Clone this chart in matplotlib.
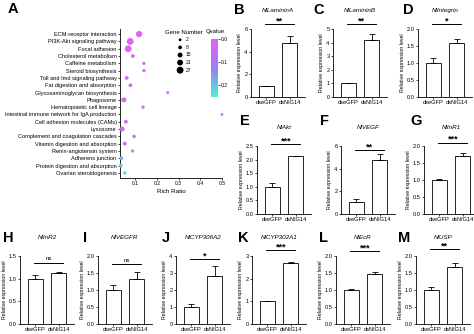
#KEGG enrichment bubble plot + qPCR bar panels

import numpy as np
import matplotlib
matplotlib.use('Agg')
import matplotlib.pyplot as plt
from matplotlib.colors import LinearSegmentedColormap, Normalize

plt.rcParams['font.family'] = ['Liberation Sans', 'DejaVu Sans']

#Panel A data
pathways = ['ECM-receptor interaction', 'PI3K-Akt signaling pathway', 'Focal adhesion',
            'Cholesterol metabolism', 'Caffeine metabolism', 'Steroid biosynthesis',
            'Toll and Imd signaling pathway', 'Fat digestion and absorption',
            'Glycosaminoglycan biosynthesis', 'Phagosome', 'Hematopoietic cell lineage',
            'Intestinal immune network for IgA production', 'Cell adhesion molecules (CAMs)',
            'Lysosome', 'Complement and coagulation cascades', 'Vitamin digestion and absorption',
            'Renin-angiotensin system', 'Adherens junction', 'Protein digestion and absorption',
            'Ovarian steroidogenesis']
rich_ratio = [0.118, 0.077, 0.068, 0.089, 0.14, 0.14, 0.061, 0.078, 0.25, 0.048,
              0.136, 0.5, 0.057, 0.04, 0.095, 0.052, 0.088, 0.037, 0.034, 0.052]
gene_number = [24, 27, 27, 8, 5, 5, 8, 8, 3, 15, 5, 2, 8, 15, 6, 8, 6, 8, 8, 6]
qvalue = [0.0, 0.0, 0.0, 0.005, 0.01, 0.01, 0.015, 0.02, 0.02, 0.025,
          0.03, 0.03, 0.035, 0.05, 0.05, 0.06, 0.18, 0.2, 0.21, 0.22]
legend_genes = [2, 8, 15, 21, 27]

#qPCR data (panels B-M)
groups = ['dseGFP', 'dsNIG14']
letters = ['B', 'C', 'D', 'E', 'F', 'G', 'H', 'I', 'J', 'K', 'L', 'M']
genes = ['NlLamininA', 'NlLamininB', 'NlIntegrin', 'NlAkt', 'NlVEGF', 'NlInR1',
         'NlInR2', 'NlVEGFR', 'NlCYP306A2', 'NlCYP302A1', 'NlEcR', 'NlUSP']
means = [[0.97, 4.8], [1.02, 4.2], [1.0, 1.6], [1.0, 2.12], [1.05, 4.8], [1.0, 1.72],
         [1.0, 1.13], [1.0, 1.33], [1.0, 2.85], [1.0, 2.67], [1.0, 1.47], [1.0, 1.67]]
sems = [[0.04, 0.62], [0.04, 0.45], [0.14, 0.11], [0.15, 0.03], [0.25, 0.5], [0.04, 0.08],
        [0.07, 0.02], [0.14, 0.2], [0.15, 0.55], [0.03, 0.07], [0.02, 0.05], [0.08, 0.12]]
signif = ['**', '**', '*', '***', '**', '***', 'ns', 'ns', '*', '***', '***', '**']
sig_level = [6.44, 5.37, 2.15, 2.57, 5.65, 2.1, 1.35, 1.76, 3.8, 3.26, 2.15, 2.2]
y_max = [6, 5, 2, 2.5, 6, 2, 1.5, 2, 4, 3, 2, 2]
y_step = [2, 1, 0.5, 0.5, 2, 0.5, 0.5, 0.5, 1, 1, 0.5, 0.5]

#Layout in pixels
W, H = 474, 334
bar_boxes = [(251, 29), (333, 29), (418, 29), (257, 146), (341, 146), (424, 146),
             (20, 256), (98, 256), (176, 256), (252, 256), (336, 256), (416, 256)]
letter_xy = [(234, 10), (313, 10), (403, 10), (240, 121), (320, 121), (410, 121),
             (3, 238), (83, 238), (162, 238), (238, 238), (319, 238), (398, 238)]

fig = plt.figure(figsize=(4.74, 3.34), dpi=100)

def px_axes(left, top, width, height):
    return fig.add_axes([left / W, 1 - (top + height) / H, width / W, height / H])

def bubble_size(n):
    d = (2.5 + 0.16 * np.asarray(n)) * 0.72
    return d ** 2

cmap = LinearSegmentedColormap.from_list('q', ['#e065f5', '#9a7ef0', '#50f0d0'])
norm = Normalize(0, 0.25)

#Panel A
ax = px_axes(120, 29, 102, 149)
ypos = np.arange(len(pathways))
ax.scatter(rich_ratio, ypos, s=bubble_size(gene_number), c=qvalue, cmap=cmap, norm=norm,
           linewidths=0, clip_on=False, zorder=3)
ax.set_ylim(len(pathways) - 0.3, -0.7)
ax.set_xlim(0.03, 0.5)
ax.set_yticks(ypos)
ax.set_yticklabels(pathways, fontsize=4.1)
ax.set_xticks([0.1, 0.2, 0.3, 0.4, 0.5])
ax.set_xticklabels(['0.1', '0.2', '0.3', '0.4', '0.5'], fontsize=3.6)
ax.set_xlabel('Rich Ratio', fontsize=4.5, labelpad=2)
ax.tick_params(length=1.5, width=0.5, pad=1)
for s in ['top', 'right']:
    ax.spines[s].set_visible(False)
for s in ['left', 'bottom']:
    ax.spines[s].set_linewidth(0.6)
fig.text(8 / W, 1 - 9 / H, 'A', fontsize=10.5, fontweight='bold', va='center')

#size legend
lax = px_axes(172, 36, 30, 38)
lax.set_xlim(0, 1)
lax.set_ylim(4.5, -0.5)
lax.scatter([0.27] * len(legend_genes), range(len(legend_genes)), s=bubble_size(legend_genes),
            color='black', linewidths=0)
for k, g in enumerate(legend_genes):
    lax.text(0.45, k, str(g), fontsize=3.6, va='center')
lax.axis('off')
fig.text(184 / W, 1 - 32 / H, 'Gene Number', fontsize=4.3, ha='center', va='center')

#colorbar
cax = px_axes(211, 39, 7, 58)
cb = fig.colorbar(plt.cm.ScalarMappable(norm=norm, cmap=cmap), cax=cax, ticks=[0, 0.1, 0.2])
cb.outline.set_visible(False)
cax.invert_yaxis()
cax.set_yticklabels(['0.0', '0.1', '0.2'])
cax.tick_params(labelsize=3.6, length=1.2, width=0.5, pad=1)
fig.text(215 / W, 1 - 32 / H, 'Qvalue', fontsize=4.3, ha='center', va='center')

#Panels B-M
for i in range(len(genes)):
    ax = px_axes(bar_boxes[i][0], bar_boxes[i][1], 54, 68)
    x = np.arange(2)
    ax.bar(x, means[i], width=0.65, color='white', edgecolor='black', linewidth=0.6, zorder=2)
    ax.errorbar(x, means[i], yerr=[[0, 0], sems[i]], fmt='none', ecolor='black',
                elinewidth=0.6, capsize=2.5, capthick=0.6, zorder=3)
    ax.set_xlim(-0.67, 1.67)
    ax.set_ylim(0, y_max[i])
    ticks = np.arange(0, y_max[i] + y_step[i] / 2, y_step[i])
    ax.set_yticks(ticks)
    if y_step[i] < 1:
        ax.set_yticklabels(['%.1f' % t for t in ticks])
    else:
        ax.set_yticklabels(['%d' % t for t in ticks])
    ax.set_xticks(x)
    ax.set_xticklabels(groups)
    ax.tick_params(labelsize=4.1, length=1.5, width=0.5, pad=1)
    ax.set_ylabel('Relative expression level', fontsize=3.8, labelpad=1.5)
    for s in ['top', 'right']:
        ax.spines[s].set_visible(False)
    for s in ['left', 'bottom']:
        ax.spines[s].set_linewidth(0.6)
    ax.set_title(genes[i], fontsize=4.5, style='italic', pad=12)
    #significance bracket
    ax.plot([-0.05, 1.2], [sig_level[i], sig_level[i]], color='black', lw=0.7, clip_on=False)
    if signif[i] == 'ns':
        ax.annotate('ns', xy=(0.575, sig_level[i]), xytext=(0, 1), textcoords='offset points',
                    ha='center', va='bottom', fontsize=4.3, annotation_clip=False)
    else:
        ax.annotate(signif[i], xy=(0.575, sig_level[i]), xytext=(0, -1), textcoords='offset points',
                    ha='center', va='bottom', fontsize=6.5, fontweight='bold', annotation_clip=False)
    fig.text(letter_xy[i][0] / W, 1 - letter_xy[i][1] / H, letters[i], fontsize=10.5,
             fontweight='bold', va='center')

plt.savefig('out.png', dpi=100)
